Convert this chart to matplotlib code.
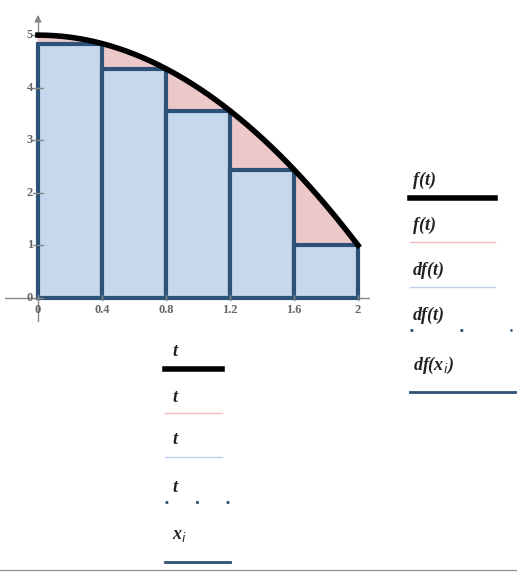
import numpy as np
import matplotlib.pyplot as plt
from matplotlib.patches import Rectangle

t_ticks = [0, 0.4, 0.8, 1.2, 1.6, 2]
x_labels = ["0", "0.4", "0.8", "1.2", "1.6", "2"]
y_ticks = [0, 1, 2, 3, 4, 5]
xi = [0.4, 0.8, 1.2, 1.6, 2.0]
heights = [4.84, 4.36, 3.56, 2.44, 1.0]
dx = 0.4

W, H = 517, 573
fig = plt.figure(figsize=(W/100, H/100), dpi=100)
L, R, T, B = 5, 370, 12, 322
ax = fig.add_axes([L/W, 1-B/H, (R-L)/W, (B-T)/H])
ax.set_xlim(-0.206, 2.075)
ax.set_ylim(-0.46, 5.44)
ax.axis('off')

tt = np.linspace(0, 2, 200)
f = 5 - tt**2
step = np.array([heights[min(int(v/dx), 4)] for v in tt])
ax.fill_between(tt, step, f, color='#ecc8c8', zorder=1)
for x, h in zip(xi, heights):
    ax.add_patch(Rectangle((x-dx, 0), dx, h, facecolor='#c6d8eb', edgecolor='#2d5277', lw=3, zorder=2))
ax.plot(tt, f, color='black', lw=4, zorder=3)

gray = '#888888'
ax.plot([-0.206, 2.075], [0, 0], color=gray, lw=1, zorder=0)
ax.plot([0, 0], [-0.46, 5.3], color=gray, lw=1, zorder=0)
ax.annotate('', xy=(0, 5.44), xytext=(0, 5.2),
            arrowprops=dict(arrowstyle='-|>', color=gray, lw=1, mutation_scale=10))
fs = dict(family='Liberation Serif', fontsize=9, color='#666666', fontweight='bold')
for x, s in zip(t_ticks, x_labels):
    ax.text(x, -0.12, s, ha='center', va='top', **fs)
    ax.plot([x, x], [-0.05, 0.05], color=gray, lw=1)
for y in y_ticks:
    ax.text(-0.03, y, str(y), ha='right', va='center', **fs)
    ax.plot([-0.03, 0.03], [y, y], color=gray, lw=1)

fa = fig.add_axes([0, 0, 1, 1]); fa.axis('off')
fa.set_xlim(0, W); fa.set_ylim(H, 0)
lf = dict(family='Liberation Serif', fontsize=13, fontweight='bold', style='italic', color='#222222')
right = [("f(t)", 180, 198, dict(color='black', lw=4), 495),
         ("f(t)", 225, 242, dict(color='#f0bcbc', lw=1), 495),
         ("df(t)", 270, 287, dict(color='#c0cfee', lw=1), 495),
         ("df(t)", 315, 330, dict(color='#2d5277', lw=2, ls=(0, (1, 17))), 512),
         ("df(x$_i$)", 365, 392, dict(color='#2d5277', lw=2), 515)]
for s, ty, ly, st, x2 in right:
    fa.text(413, ty, s, va='center', ha='left', **lf)
    fa.plot([410, x2], [ly, ly], **st)
bottom = [("t", 352, 369, dict(color='black', lw=4), 222),
          ("t", 397, 413, dict(color='#f0bcbc', lw=1), 222),
          ("t", 440, 457, dict(color='#c0cfee', lw=1), 222),
          ("t", 487, 502, dict(color='#2d5277', lw=2, ls=(0, (1, 10))), 229),
          ("x$_i$", 535, 562, dict(color='#2d5277', lw=2), 230)]
for s, ty, ly, st, x2 in bottom:
    fa.text(172, ty, s, va='center', ha='left', **lf)
    fa.plot([165, x2], [ly, ly], **st)
fa.plot([0, W], [570, 570], color='#999999', lw=1)

fig.savefig('out.png', dpi=100)
